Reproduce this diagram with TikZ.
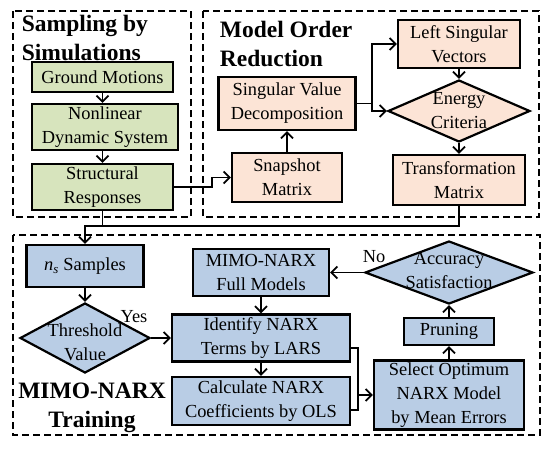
\documentclass[tikz,border=0pt]{standalone}
\usepackage{fontspec}
\setmainfont{Liberation Serif}
\usepackage{xcolor}
\usepackage{tikz}
\usetikzlibrary{arrows.meta,shapes.geometric}

\definecolor{simgreen}{RGB}{215,228,189}
\definecolor{morpeach}{RGB}{252,228,214}
\definecolor{narxblue}{RGB}{185,205,229}

\begin{document}
\begin{tikzpicture}[x=1pt,y=-1pt,>={Straight Barb[length=6pt,width=12pt]},line width=1.8pt,
                    font=\fontsize{18.4}{24}\selectfont]
  \tikzstyle{every node}=[align=center,inner sep=0pt]
  \tikzstyle{box}=[rectangle,draw=black,line width=2.2pt]
  \tikzstyle{decision}=[diamond,draw=black,line width=2.2pt]
  \tikzstyle{panel}=[draw=black,line width=1.6pt,dash pattern=on 7pt off 4pt]
  \tikzstyle{paneltitle}=[font=\fontsize{23.5}{29}\selectfont\bfseries]
  \tikzstyle{arrowline}=[->,line width=1.8pt]

  \useasboundingbox (0,0) rectangle (550,451);

  % dashed panels
  \draw[panel] (13,11) rectangle (191,217);
  \draw[panel] (203,11) rectangle (539,217);
  \draw[panel] (13,235) rectangle (540,435);

  \node[paneltitle,anchor=west,align=left] (T1) at (21,38) {Sampling by\\Simulations};
  \node[paneltitle,anchor=west,align=left] (T2) at (219,44) {Model Order\\Reduction};
  \node[paneltitle] (T3) at (92,408) {MIMO-NARX\\Training};

  % sampling by simulations
  \node[box,fill=simgreen,minimum width=141pt,minimum height=30pt] (GM) at (102.5,77) {Ground Motions};
  \node[box,fill=simgreen,minimum width=146pt,minimum height=46pt] (NDS) at (105,127) {Nonlinear\\Dynamic System};
  \node[box,fill=simgreen,minimum width=141pt,minimum height=46pt] (SR) at (102.5,187) {Structural\\Responses};

  % model order reduction
  \node[box,fill=morpeach,minimum width=110pt,minimum height=49pt] (SM) at (287,177.5) {Snapshot\\Matrix};
  \node[box,fill=morpeach,minimum width=137pt,minimum height=53pt] (SVD) at (287,103.5) {Singular Value\\Decomposition};
  \node[box,fill=morpeach,minimum width=122pt,minimum height=48pt] (LSV) at (459,44) {Left Singular\\Vectors};
  \node[decision,fill=morpeach,minimum width=142pt,minimum height=62pt,label={center:Energy\\Criteria}] (EC) at (459,111) {};
  \node[box,fill=morpeach,minimum width=132pt,minimum height=50pt] (TM) at (459,180) {Transformation\\Matrix};

  % MIMO-NARX training
  \node[box,fill=narxblue,minimum width=117pt,minimum height=42pt] (NS) at (85,266) {\textit{n}\textsubscript{\textit{s}} Samples};
  \node[decision,fill=narxblue,minimum width=130pt,minimum height=70pt,label={[yshift=-4pt]center:Threshold\\Value}] (TV) at (85,338) {};
  \node[box,fill=narxblue,minimum width=136pt,minimum height=47pt] (MF) at (261,272.5) {MIMO-NARX\\Full Models};
  \node[box,fill=narxblue,minimum width=178pt,minimum height=47pt] (IT) at (261,338) {Identify NARX\\Terms by LARS};
  \node[box,fill=narxblue,minimum width=178pt,minimum height=48pt] (CC) at (261,401) {Calculate NARX\\Coefficients by OLS};
  \node[decision,fill=narxblue,minimum width=168pt,minimum height=63pt,label={[yshift=2pt]center:Accuracy\\Satisfaction}] (AS) at (449,272.5) {};
  \node[box,fill=narxblue,minimum width=90pt,minimum height=27pt] (PR) at (449,331.5) {Pruning};
  \node[box,fill=narxblue,minimum width=150pt,minimum height=69pt] (SO) at (449,395) {Select Optimum\\NARX Model\\by Mean Errors};
  \node (yes) at (134,317) {Yes};
  \node (no) at (374,257) {No};

  % connectors
  \draw[arrowline] (GM.south) -- (GM.south |- NDS.north);
  \draw[arrowline] (NDS.south -| GM.south) -- (SR.north);
  \coordinate (SRbend) at (212,187);
  \draw[arrowline] (SR.east) -- (SRbend) |- (SM.west);
  \draw[arrowline] (SM) -- (SVD);
  \coordinate (SVDsplit) at (372,103.5);
  \draw (SVD.east) -- (SVDsplit);
  \draw[arrowline] (SVDsplit) |- (LSV.west);
  \draw[arrowline] (SVDsplit) |- (EC.west);
  \draw[arrowline] (LSV) -- (EC);
  \draw[arrowline] (EC) -- (TM);
  \coordinate (TMdown) at (459,226);
  \coordinate (NSin) at (85,226);
  \draw[arrowline] (TM.south) -- (TMdown) -- (NSin) -- (NS.north);
  \draw (SR.south) -- (SR.south |- NSin);
  \draw[arrowline] (NS) -- (TV);
  \draw[arrowline] (TV) -- (IT);
  \draw[arrowline] (MF) -- (IT);
  \draw[arrowline] (IT) -- (CC);
  \coordinate (merge) at (358,395);
  \draw ([yshift=-10pt]IT.east) -| (merge);
  \draw ([yshift=-9pt]CC.east) -| (merge);
  \draw[arrowline] (merge) -- (SO.west);
  \draw[arrowline] (SO) -- (PR);
  \draw[arrowline] (PR) -- (AS);
  \draw[arrowline] (AS) -- (MF);
\end{tikzpicture}
\end{document}
